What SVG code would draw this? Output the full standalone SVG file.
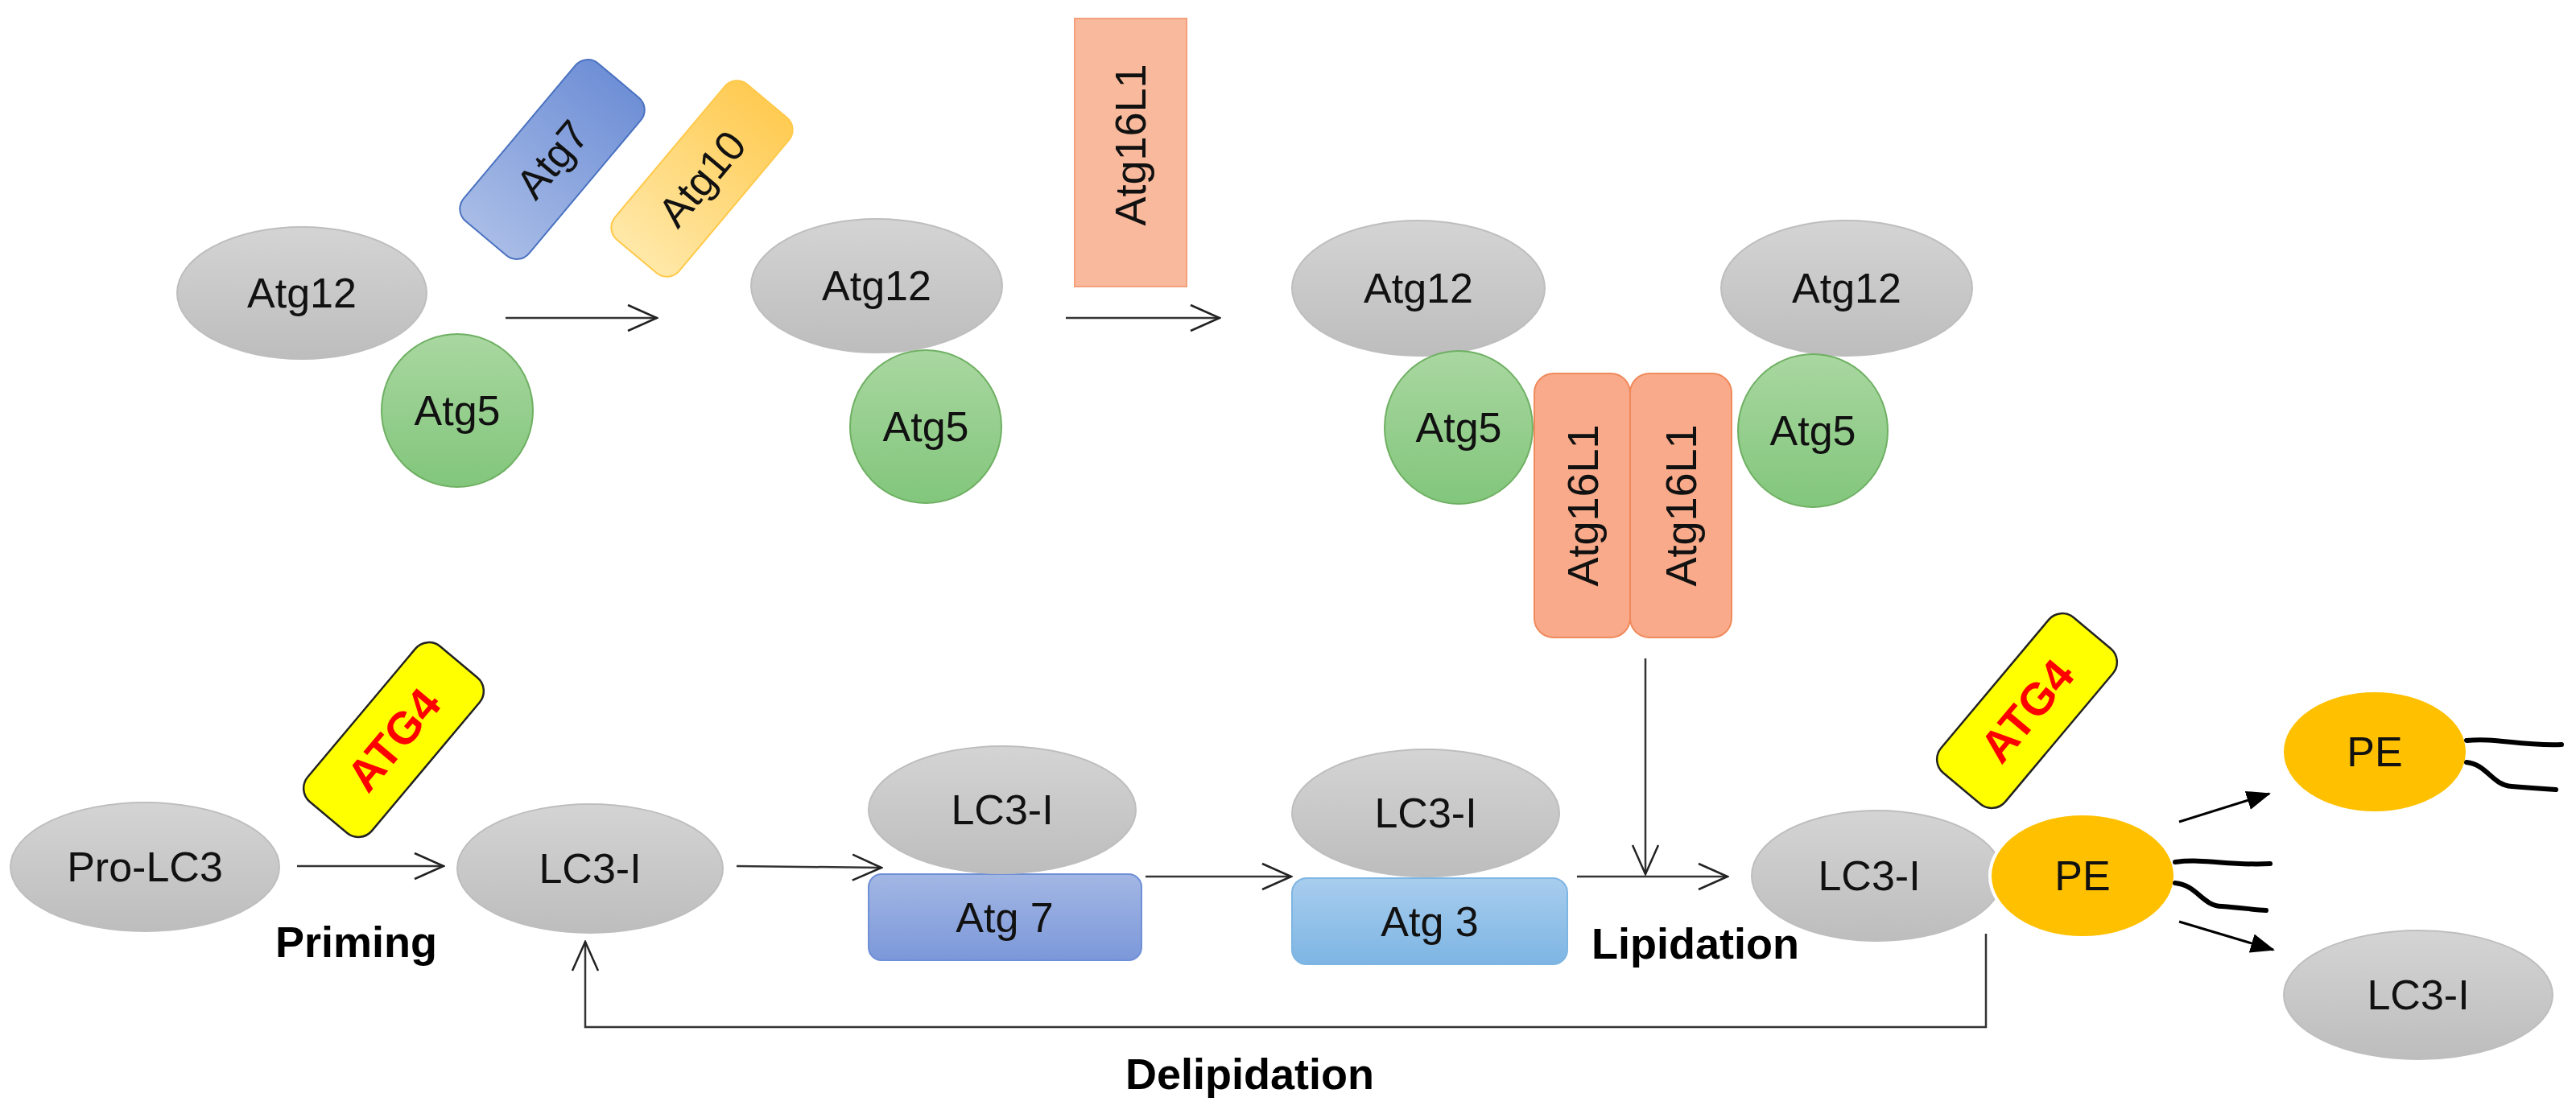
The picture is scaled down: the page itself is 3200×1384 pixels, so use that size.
<svg xmlns="http://www.w3.org/2000/svg" width="3200" height="1384" viewBox="0 0 3200 1384">
<defs>
<linearGradient id="gGray" x1="0" y1="0" x2="0" y2="1"><stop offset="0" stop-color="#D4D4D4"/><stop offset="1" stop-color="#BDBDBD"/></linearGradient>
<linearGradient id="gGreen" x1="0" y1="0" x2="0" y2="1"><stop offset="0" stop-color="#A9D7A0"/><stop offset="1" stop-color="#82C67C"/></linearGradient>
<linearGradient id="gBlue" x1="0" y1="0" x2="1" y2="0"><stop offset="0" stop-color="#A8BCE6"/><stop offset="1" stop-color="#6F8FD6"/></linearGradient>
<linearGradient id="gYel" x1="0" y1="0" x2="1" y2="0"><stop offset="0" stop-color="#FFE8A8"/><stop offset="1" stop-color="#FFCB52"/></linearGradient>
<linearGradient id="gAtg7" x1="0" y1="0" x2="0" y2="1"><stop offset="0" stop-color="#A3B7E4"/><stop offset="1" stop-color="#7C98DA"/></linearGradient>
<linearGradient id="gAtg3" x1="0" y1="0" x2="0" y2="1"><stop offset="0" stop-color="#A8CDEE"/><stop offset="1" stop-color="#7DB5E3"/></linearGradient>
<marker id="open" viewBox="0 0 20 20" refX="19" refY="10" markerWidth="20" markerHeight="20" markerUnits="userSpaceOnUse" orient="auto"><path d="M1,1 L19,10 L1,19" fill="none" stroke="#222" stroke-width="2"/></marker>
<marker id="openBig" viewBox="0 0 40 40" refX="38" refY="20" markerWidth="40" markerHeight="40" markerUnits="userSpaceOnUse" orient="auto"><path d="M2,4 L38,20 L2,36" fill="none" stroke="#222" stroke-width="2.5"/></marker>
<marker id="filled" viewBox="0 0 30 30" refX="28" refY="15" markerWidth="30" markerHeight="30" markerUnits="userSpaceOnUse" orient="auto"><path d="M0,3 L30,15 L0,27 Z" fill="#000"/></marker>
<style>
.gray{fill:url(#gGray);stroke:#BEBEBE;stroke-width:2}
.green{fill:url(#gGreen);stroke:#6FB063;stroke-width:2}
.pe{fill:#FFC000;stroke:#FFFFFF;stroke-width:4}
.t{font-family:"Liberation Sans",Arial,sans-serif;font-size:52px;fill:#111;text-anchor:middle;dominant-baseline:central}
.b{font-family:"Liberation Sans",Arial,sans-serif;font-size:54px;font-weight:bold;fill:#000}
.atg4{fill:#FFFF00;stroke:#222;stroke-width:2.5}
.red{font-family:"Liberation Sans",Arial,sans-serif;font-size:56px;font-weight:bold;fill:#FF0000;text-anchor:middle;dominant-baseline:central}
.c{fill:none;stroke:#333;stroke-width:2.5}
.tail{fill:none;stroke:#000;stroke-width:6;stroke-linecap:round}
</style>
</defs>
<rect width="3200" height="1384" fill="#fff"/>

<g id="connectors">
<line class="c" x1="628" y1="395" x2="816" y2="395" marker-end="url(#openBig)"/>
<line class="c" x1="1324" y1="395" x2="1515" y2="395" marker-end="url(#openBig)"/>
<line class="c" x1="2044" y1="818" x2="2044" y2="1086" marker-end="url(#openBig)"/>
<line class="c" x1="369" y1="1076" x2="551" y2="1076" marker-end="url(#openBig)"/>
<line class="c" x1="915" y1="1076" x2="1095" y2="1078" marker-end="url(#openBig)"/>
<line class="c" x1="1423" y1="1089" x2="1604" y2="1089" marker-end="url(#openBig)"/>
<line class="c" x1="1959" y1="1089" x2="2146" y2="1089" marker-end="url(#openBig)"/>
<polyline class="c" points="2467,1160 2467,1276 727,1276 727,1170" marker-end="url(#openBig)"/>
<line stroke="#000" stroke-width="3" x1="2707" y1="1021" x2="2819" y2="986" marker-end="url(#filled)"/>
<line stroke="#000" stroke-width="3" x1="2707" y1="1145" x2="2824" y2="1180" marker-end="url(#filled)"/>
</g>

<g id="atg12-a"><ellipse class="gray" cx="375" cy="364" rx="155" ry="82"/><text class="t" x="375" y="364">Atg12</text></g>
<g id="atg5-a"><ellipse class="green" cx="568" cy="510" rx="94" ry="95"/><text class="t" x="568" y="510">Atg5</text></g>
<g id="atg7-tilt" transform="translate(686,198) rotate(-50)"><rect x="-128" y="-53" width="256" height="106" rx="20" fill="url(#gBlue)" stroke="#4A72C0" stroke-width="2"/><text class="t" x="0" y="0">Atg7</text></g>
<g id="atg10-tilt" transform="translate(872,222) rotate(-50)"><rect x="-126" y="-52" width="252" height="104" rx="20" fill="url(#gYel)" stroke="#FFC94A" stroke-width="2"/><text class="t" x="0" y="0">Atg10</text></g>

<g id="atg12-b"><ellipse class="gray" cx="1089" cy="355" rx="156" ry="83"/><text class="t" x="1089" y="355">Atg12</text></g>
<g id="atg5-b"><ellipse class="green" cx="1150" cy="530" rx="94" ry="95"/><text class="t" x="1150" y="530">Atg5</text></g>
<g id="atg16l1-free"><rect x="1335" y="23" width="139" height="333" fill="#F9B99C" stroke="#F4A07C" stroke-width="2"/><text class="t" x="1404" y="180" transform="rotate(-90 1404 180)" style="font-size:54px">Atg16L1</text></g>

<g id="atg12-c"><ellipse class="gray" cx="1762" cy="358" rx="157" ry="84"/><text class="t" x="1762" y="358">Atg12</text></g>
<g id="atg12-d"><ellipse class="gray" cx="2294" cy="358" rx="156" ry="84"/><text class="t" x="2294" y="358">Atg12</text></g>
<g id="atg5-c"><ellipse class="green" cx="1812" cy="531" rx="92" ry="95"/><text class="t" x="1812" y="531">Atg5</text></g>
<g id="atg5-d"><ellipse class="green" cx="2252" cy="535" rx="93" ry="95"/><text class="t" x="2252" y="535">Atg5</text></g>
<g id="atg16l1-1"><rect x="1906" y="464" width="119" height="328" rx="24" fill="#F8AA8A" stroke="#F08A5C" stroke-width="2"/><text class="t" x="1966" y="628" transform="rotate(-90 1966 628)" style="font-size:54px">Atg16L1</text></g>
<g id="atg16l1-2"><rect x="2025" y="464" width="126" height="328" rx="24" fill="#F8AA8A" stroke="#F08A5C" stroke-width="2"/><text class="t" x="2088" y="628" transform="rotate(-90 2088 628)" style="font-size:54px">Atg16L1</text></g>

<g id="pro-lc3"><ellipse class="gray" cx="180" cy="1077" rx="167" ry="80"/><text class="t" x="180" y="1077">Pro-LC3</text></g>
<g id="atg4-a" transform="translate(489,919) rotate(-50)"><rect x="-126" y="-52" width="252" height="104" rx="22" class="atg4"/><text class="red" x="0" y="0">ATG4</text></g>
<g id="lc3-a"><ellipse class="gray" cx="733" cy="1079" rx="165" ry="80"/><text class="t" x="733" y="1079">LC3-I</text></g>
<text class="b" x="342" y="1189">Priming</text>

<g id="atg7-box"><rect x="1079" y="1086" width="339" height="107" rx="16" fill="url(#gAtg7)" stroke="#6F8FD6" stroke-width="2"/><text class="t" x="1248" y="1140">Atg 7</text></g>
<g id="lc3-b"><ellipse class="gray" cx="1245" cy="1006" rx="166" ry="79"/><text class="t" x="1245" y="1006">LC3-I</text></g>
<g id="atg3-box"><rect x="1605" y="1091" width="342" height="107" rx="18" fill="url(#gAtg3)" stroke="#7DB5E3" stroke-width="2"/><text class="t" x="1776" y="1145">Atg 3</text></g>
<g id="lc3-c"><ellipse class="gray" cx="1771" cy="1010" rx="166" ry="79"/><text class="t" x="1771" y="1010">LC3-I</text></g>
<text class="b" x="1977" y="1191">Lipidation</text>

<g id="lc3-d"><ellipse class="gray" cx="2332" cy="1088" rx="156" ry="81"/><text class="t" x="2322" y="1088">LC3-I</text></g>
<g id="pe-a"><ellipse class="pe" cx="2587" cy="1088" rx="115" ry="77"/><text class="t" x="2587" y="1088">PE</text>
<path class="tail" d="M2702,1071 C2740,1066 2770,1076 2820,1073"/>
<path class="tail" d="M2702,1097 C2730,1100 2735,1125 2760,1126 C2785,1128 2800,1130 2815,1131"/></g>
<g id="atg4-b" transform="translate(2518,883) rotate(-50)"><rect x="-126" y="-52" width="252" height="104" rx="22" class="atg4"/><text class="red" x="0" y="0">ATG4</text></g>

<g id="pe-b"><ellipse class="pe" cx="2950" cy="934" rx="115" ry="76"/><text class="t" x="2950" y="934">PE</text>
<path class="tail" d="M3064,920 C3100,916 3130,927 3182,925"/>
<path class="tail" d="M3064,947 C3090,950 3095,975 3120,977 C3145,979 3160,980 3175,981"/></g>
<g id="lc3-e"><ellipse class="gray" cx="3004" cy="1236" rx="167" ry="80"/><text class="t" x="3004" y="1236">LC3-I</text></g>

<text class="b" x="1398" y="1353">Delipidation</text>
</svg>
